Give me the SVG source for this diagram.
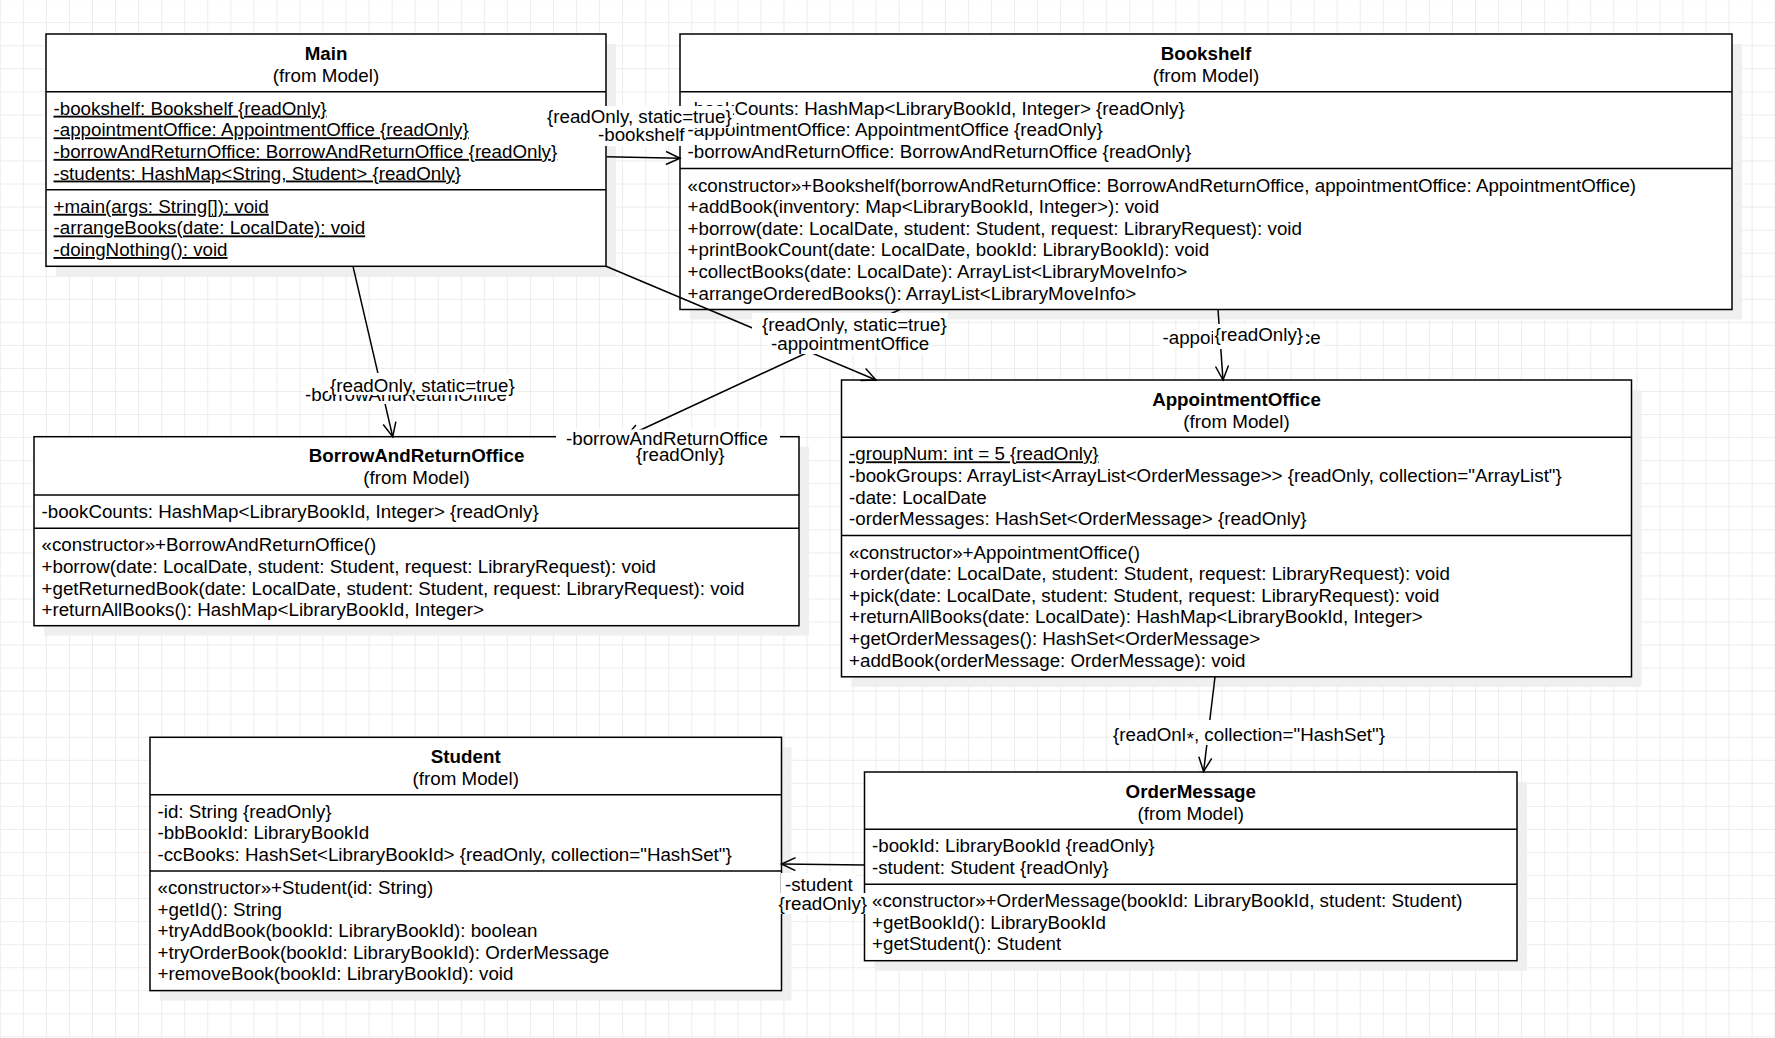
<svg xmlns="http://www.w3.org/2000/svg" width="1775" height="1038" viewBox="0 0 1775 1038">
<defs>
<style>
text{font-family:"Liberation Sans",Arial,Helvetica,sans-serif;font-size:18.75px;fill:#000}
.t{font-weight:bold;text-anchor:middle}
.c{text-anchor:middle}
.u{text-decoration:underline;text-decoration-skip-ink:none}
.box{fill:#fff;stroke:#000;stroke-width:1.5}
.sh{fill:#efefef}
.dv{stroke:#000;stroke-width:1.5}
.edge{fill:none;stroke:#000;stroke-width:1.5;marker-end:url(#open)}
.lbg{fill:#fff}
</style>
<pattern id="grid" x="-0.2" y="-0.85" width="23.05" height="23.05" patternUnits="userSpaceOnUse">
<path d="M0.5 0V23.05M0 0.5H23.05" fill="none" stroke="#ececec" stroke-width="1"/>
</pattern>
<marker id="open" viewBox="-16 -8 18 16" refX="0" refY="0" markerWidth="18" markerHeight="16" markerUnits="userSpaceOnUse" orient="auto">
<path d="M-14,-6.5 L0,0 L-14,6.5" fill="none" stroke="#000" stroke-width="1.5"/>
</marker>
</defs>
<rect width="1775" height="1038" fill="#fff"/>
<rect width="1775" height="1038" fill="url(#grid)"/>

<g id="Main">
<rect class="sh" x="56" y="44" width="560" height="232.3"/>
<rect class="box" x="46" y="34" width="560" height="232.3"/>
<line class="dv" x1="46" y1="91.7" x2="606" y2="91.7"/>
<line class="dv" x1="46" y1="189.8" x2="606" y2="189.8"/>
<text class="t" x="326" y="59.7">Main</text>
<text class="c" x="326" y="81.5">(from Model)</text>
<text class="u" x="53.5" y="114.7">-bookshelf: Bookshelf {readOnly}</text>
<text class="u" x="53.5" y="136.3">-appointmentOffice: AppointmentOffice {readOnly}</text>
<text class="u" x="53.5" y="157.9">-borrowAndReturnOffice: BorrowAndReturnOffice {readOnly}</text>
<text class="u" x="53.5" y="179.5">-students: HashMap&lt;String, Student&gt; {readOnly}</text>
<text class="u" x="53.5" y="212.8">+main(args: String[]): void</text>
<text class="u" x="53.5" y="234.4">-arrangeBooks(date: LocalDate): void</text>
<text class="u" x="53.5" y="256">-doingNothing(): void</text>
</g>

<g id="Bookshelf">
<rect class="sh" x="690" y="44" width="1052" height="275.5"/>
<rect class="box" x="680" y="34" width="1052" height="275.5"/>
<line class="dv" x1="680" y1="91.7" x2="1732" y2="91.7"/>
<line class="dv" x1="680" y1="168.5" x2="1732" y2="168.5"/>
<text class="t" x="1206" y="59.7">Bookshelf</text>
<text class="c" x="1206" y="81.5">(from Model)</text>
<text x="687.5" y="114.7">-bookCounts: HashMap&lt;LibraryBookId, Integer&gt; {readOnly}</text>
<text x="687.5" y="136.3">-appointmentOffice: AppointmentOffice {readOnly}</text>
<text x="687.5" y="157.9">-borrowAndReturnOffice: BorrowAndReturnOffice {readOnly}</text>
<text x="687.5" y="191.5">«constructor»+Bookshelf(borrowAndReturnOffice: BorrowAndReturnOffice, appointmentOffice: AppointmentOffice)</text>
<text x="687.5" y="213.1">+addBook(inventory: Map&lt;LibraryBookId, Integer&gt;): void</text>
<text x="687.5" y="234.7">+borrow(date: LocalDate, student: Student, request: LibraryRequest): void</text>
<text x="687.5" y="256.3">+printBookCount(date: LocalDate, bookId: LibraryBookId): void</text>
<text x="687.5" y="277.9">+collectBooks(date: LocalDate): ArrayList&lt;LibraryMoveInfo&gt;</text>
<text x="687.5" y="299.5">+arrangeOrderedBooks(): ArrayList&lt;LibraryMoveInfo&gt;</text>
</g>

<g id="BorrowAndReturnOffice">
<rect class="sh" x="44" y="446.7" width="765" height="189"/>
<rect class="box" x="34" y="436.7" width="765" height="189"/>
<line class="dv" x1="34" y1="495" x2="799" y2="495"/>
<line class="dv" x1="34" y1="528.3" x2="799" y2="528.3"/>
<text class="t" x="416.5" y="462.4">BorrowAndReturnOffice</text>
<text class="c" x="416.5" y="484.2">(from Model)</text>
<text x="41.5" y="518">-bookCounts: HashMap&lt;LibraryBookId, Integer&gt; {readOnly}</text>
<text x="41.5" y="551.3">«constructor»+BorrowAndReturnOffice()</text>
<text x="41.5" y="572.9">+borrow(date: LocalDate, student: Student, request: LibraryRequest): void</text>
<text x="41.5" y="594.5">+getReturnedBook(date: LocalDate, student: Student, request: LibraryRequest): void</text>
<text x="41.5" y="616.1">+returnAllBooks(): HashMap&lt;LibraryBookId, Integer&gt;</text>
</g>

<g id="AppointmentOffice">
<rect class="sh" x="851.5" y="390" width="790" height="296.8"/>
<rect class="box" x="841.5" y="380" width="790" height="296.8"/>
<line class="dv" x1="841.5" y1="437.3" x2="1631.5" y2="437.3"/>
<line class="dv" x1="841.5" y1="535.5" x2="1631.5" y2="535.5"/>
<text class="t" x="1236.5" y="405.7">AppointmentOffice</text>
<text class="c" x="1236.5" y="427.5">(from Model)</text>
<text class="u" x="849" y="460.3">-groupNum: int = 5 {readOnly}</text>
<text x="849" y="481.9">-bookGroups: ArrayList&lt;ArrayList&lt;OrderMessage&gt;&gt; {readOnly, collection="ArrayList"}</text>
<text x="849" y="503.5">-date: LocalDate</text>
<text x="849" y="525.1">-orderMessages: HashSet&lt;OrderMessage&gt; {readOnly}</text>
<text x="849" y="558.5">«constructor»+AppointmentOffice()</text>
<text x="849" y="580.1">+order(date: LocalDate, student: Student, request: LibraryRequest): void</text>
<text x="849" y="601.7">+pick(date: LocalDate, student: Student, request: LibraryRequest): void</text>
<text x="849" y="623.3">+returnAllBooks(date: LocalDate): HashMap&lt;LibraryBookId, Integer&gt;</text>
<text x="849" y="644.9">+getOrderMessages(): HashSet&lt;OrderMessage&gt;</text>
<text x="849" y="666.5">+addBook(orderMessage: OrderMessage): void</text>
</g>

<g id="Student">
<rect class="sh" x="160" y="747.3" width="631.5" height="253.3"/>
<rect class="box" x="150" y="737.3" width="631.5" height="253.3"/>
<line class="dv" x1="150" y1="794.7" x2="781.5" y2="794.7"/>
<line class="dv" x1="150" y1="870.9" x2="781.5" y2="870.9"/>
<text class="t" x="465.75" y="763">Student</text>
<text class="c" x="465.75" y="784.8">(from Model)</text>
<text x="157.5" y="817.7">-id: String {readOnly}</text>
<text x="157.5" y="839.3">-bbBookId: LibraryBookId</text>
<text x="157.5" y="860.9">-ccBooks: HashSet&lt;LibraryBookId&gt; {readOnly, collection="HashSet"}</text>
<text x="157.5" y="893.9">«constructor»+Student(id: String)</text>
<text x="157.5" y="915.5">+getId(): String</text>
<text x="157.5" y="937.1">+tryAddBook(bookId: LibraryBookId): boolean</text>
<text x="157.5" y="958.7">+tryOrderBook(bookId: LibraryBookId): OrderMessage</text>
<text x="157.5" y="980.3">+removeBook(bookId: LibraryBookId): void</text>
</g>

<g id="OrderMessage">
<rect class="sh" x="874.5" y="782" width="652.5" height="188.7"/>
<rect class="box" x="864.5" y="772" width="652.5" height="188.7"/>
<line class="dv" x1="864.5" y1="829.3" x2="1517" y2="829.3"/>
<line class="dv" x1="864.5" y1="884.2" x2="1517" y2="884.2"/>
<text class="t" x="1190.75" y="797.7">OrderMessage</text>
<text class="c" x="1190.75" y="819.5">(from Model)</text>
<text x="872" y="852.3">-bookId: LibraryBookId {readOnly}</text>
<text x="872" y="873.9">-student: Student {readOnly}</text>
<text x="872" y="907.2">«constructor»+OrderMessage(bookId: LibraryBookId, student: Student)</text>
<text x="872" y="928.8">+getBookId(): LibraryBookId</text>
<text x="872" y="950.4">+getStudent(): Student</text>
</g>

<g id="connectors">
<path class="edge" d="M606.5,156.7 L680,158.3"/>
<path class="edge" d="M353,266.3 L392.7,436.7"/>
<path class="edge" d="M606,266.3 L876,380"/>
<path class="edge" d="M900,309.5 L626,436.7"/>
<path class="edge" d="M1218,309.5 L1223,380"/>
<path class="edge" d="M1215,677 L1203.6,771.5"/>
<path class="edge" d="M864.5,865 L781.5,864"/>

<rect class="lbg" x="545" y="106" width="188" height="22"/>
<text x="547" y="123.3">{readOnly, static=true}</text>
<rect class="lbg" x="596" y="128" width="89" height="18"/>
<text x="598" y="140.5">-bookshelf</text>

<rect class="lbg" x="303" y="384" width="205" height="20"/>
<text x="305" y="400.5">-borrowAndReturnOffice</text>
<rect class="lbg" x="328" y="373" width="189" height="22"/>
<text x="330" y="391.5">{readOnly, static=true}</text>

<rect class="lbg" x="752" y="313" width="196" height="21"/>
<text x="762" y="330.7">{readOnly, static=true}</text>
<rect class="lbg" x="768" y="334" width="164" height="20"/>
<text x="771" y="350">-appointmentOffice</text>

<rect class="lbg" x="556" y="429.5" width="224" height="19.5"/>
<text x="566" y="445">-borrowAndReturnOffice</text>
<rect class="lbg" x="633" y="449" width="94" height="17"/>
<text x="636" y="461">{readOnly}</text>

<rect class="lbg" x="1160" y="329" width="163" height="20"/>
<text x="1162.5" y="343.5">-appointmentOffice</text>
<rect class="lbg" x="1213" y="324" width="93" height="23"/>
<text x="1214.5" y="340.5">{readOnly}</text>

<rect class="lbg" x="1110" y="720" width="279" height="25"/>
<text x="1113" y="740.5">{readOnly, collection="HashSet"}</text>
<rect class="lbg" x="1185.8" y="726" width="9.6" height="19.5"/>
<text x="1186.8" y="744.5">*</text>

<rect class="lbg" x="781" y="873" width="75" height="20"/>
<text x="785" y="890.5">-student</text>
<rect class="lbg" x="776" y="893" width="93" height="21"/>
<text x="778.5" y="910">{readOnly}</text>
</g>
</svg>
